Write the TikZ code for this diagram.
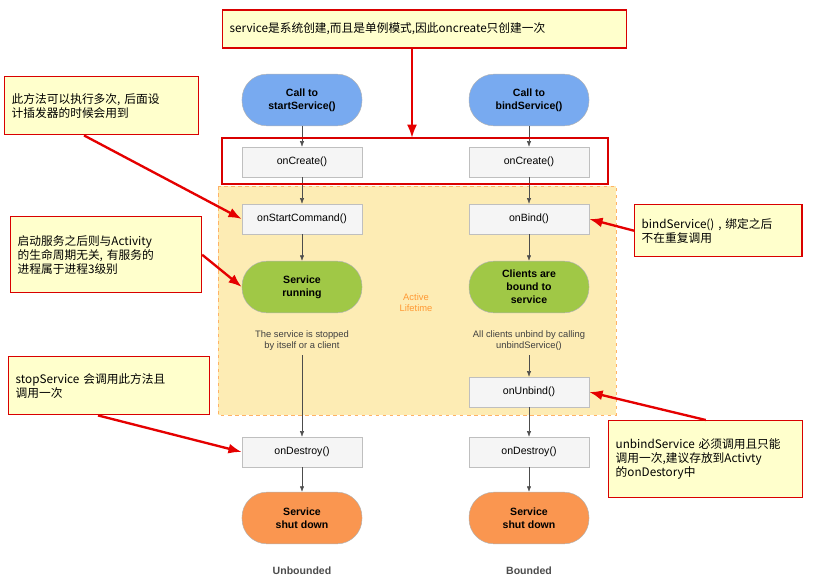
\documentclass[tikz,border=0pt]{standalone}
\usepackage{fontspec}
\setmainfont{Liberation Sans}
\newfontfamily\cjk{Noto Sans CJK SC}
\usetikzlibrary{arrows.meta}
\definecolor{noteyel}{RGB}{255,255,204}
\definecolor{callblue}{RGB}{120,170,240}
\definecolor{rungreen}{RGB}{160,200,70}
\definecolor{downorange}{RGB}{250,150,80}
\definecolor{activebg}{RGB}{253,236,180}
\begin{document}
\begin{tikzpicture}[x=0.03cm,y=-0.03cm,font=\sffamily\small,
    step box/.style={draw=black!25,fill=black!4,minimum width=3.6cm,minimum height=0.9cm,font=\small},
    state node/.style={rounded corners=0.75cm,draw=black!30,minimum width=3.6cm,minimum height=1.55cm,align=center,font=\small\bfseries},
    note/.style={draw=red!85!black,line width=1.2pt,fill=noteyel,align=left,font=\cjk\normalsize,inner sep=6pt,anchor=north west},
    red arrow/.style={-{Latex[length=4mm,width=3mm]},red!90!black,line width=2pt},
    flow/.style={->,>=Latex,black!70}]
\useasboundingbox (0,0) rectangle (835,579);
\fill[white] (0,0) rectangle (835,579);
% active lifetime
\draw[dashed,draw=orange!60,fill=activebg] (218,186) rectangle (616,415);
\node[orange!80,align=center,font=\footnotesize] (active) at (416,303) {Active\\Lifetime};
% left column
\node[state node,fill=callblue] (callstart) at (302,100) {Call to\\startService()};
\node[step box] (createA) at (302,162) {onCreate()};
\node[step box] (startcmd) at (302,219) {onStartCommand()};
\node[state node,fill=rungreen] (running) at (302,287) {Service\\running};
\node[align=center,font=\footnotesize,text=black!75] (stoptext) at (302,341) {The service is stopped\\by itself or a client};
\node[step box] (destroyA) at (302,452) {onDestroy()};
\node[state node,fill=downorange] (downA) at (302,518) {Service\\shut down};
\node[font=\small\bfseries,text=black!70] (unbounded) at (302,571) {Unbounded};
% right column
\node[state node,fill=callblue] (callbind) at (529,100) {Call to\\bindService()};
\node[step box] (createB) at (529,162) {onCreate()};
\node[step box] (bind) at (529,219) {onBind()};
\node[state node,fill=rungreen] (clients) at (529,287) {Clients are\\bound to\\service};
\node[align=center,font=\footnotesize,text=black!75] (unbindtext) at (529,341) {All clients unbind by calling\\unbindService()};
\node[step box] (unbind) at (529,392) {onUnbind()};
\node[step box] (destroyB) at (529,452) {onDestroy()};
\node[state node,fill=downorange] (downB) at (529,518) {Service\\shut down};
\node[font=\small\bfseries,text=black!70] (bounded) at (529,571) {Bounded};
% flow
\draw[flow] (callstart) -- (createA);
\draw[flow] (createA) -- (startcmd);
\draw[flow] (startcmd) -- (running);
\draw[flow] (stoptext) -- (destroyA);
\draw[flow] (destroyA) -- (downA);
\draw[flow] (callbind) -- (createB);
\draw[flow] (createB) -- (bind);
\draw[flow] (bind) -- (clients);
\draw[flow] (unbindtext) -- (unbind);
\draw[flow] (unbind) -- (destroyB);
\draw[flow] (destroyB) -- (downB);
% notes
\draw[red!85!black,line width=2pt] (222,138) rectangle (608,184);
\coordinate (frametop) at (412,138);
\node[note,text width=11.7cm,minimum height=1.14cm,anchor=west] (topnote) at (222,29) {service是系统创建,而且是单例模式,因此oncreate只创建一次};
\node[note,text width=5.4cm,minimum height=1.74cm] (note1) at (4,76) {此方法可以执行多次, 后面设\\计插发器的时候会用到};
\node[note,text width=5.3cm,minimum height=2.28cm] (note2) at (10,216) {启动服务之后则与Activity\\的生命周期无关, 有服务的\\进程属于进程3级别};
\node[note,text width=5.6cm,minimum height=1.74cm] (note3) at (8,356) {stopService 会调用此方法且\\调用一次};
\node[note,text width=4.6cm,minimum height=1.56cm] (note4) at (634,204) {bindService() , 绑定之后\\不在重复调用};
\node[note,text width=5.4cm,minimum height=2.31cm] (note5) at (608,420) {unbindService 必须调用且只能\\调用一次,建议存放到Activty\\的onDestory中};
\draw[red arrow] (topnote.south -| frametop) -- (frametop);
\draw[red arrow] (note1.south west) ++(80,0) -- (startcmd.west);
\draw[red arrow] (note2.east) -- (running.west);
\draw[red arrow] (note3.south west) ++(90,0) -- (destroyA.west);
\draw[red arrow] (note4.west) -- (bind.east);
\draw[red arrow] (note5.north) -- (unbind.east);
\end{tikzpicture}
\end{document}
